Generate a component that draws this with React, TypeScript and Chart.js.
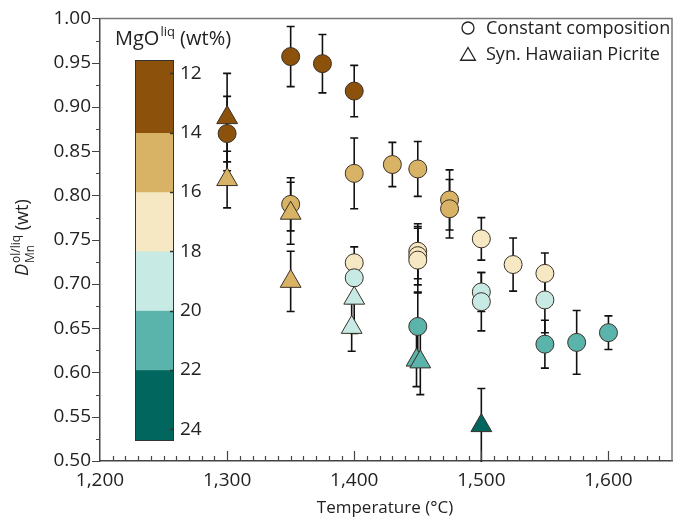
import React, { useEffect, useRef } from 'react';
import { Chart, registerables } from 'chart.js';

Chart.register(...registerables);

// MgO (wt%) bins of the colour bar, BrBG palette
const binColors = ['#8c510a', '#d8b365', '#f6e8c3', '#c7eae5', '#5ab4ac', '#01665e'];
const cbEdges = [11.55, 14, 16, 18, 20, 22, 24.4];
const cbTicks = [12, 14, 16, 18, 20, 22, 24];

const xTicks = [1200, 1300, 1400, 1500, 1600];
const yTicks = [0.5, 0.55, 0.6, 0.65, 0.7, 0.75, 0.8, 0.85, 0.9, 0.95, 1.0];

// Constant composition (circles)
const ccTemp = [1300, 1350, 1375, 1400, 1350, 1400, 1430, 1450, 1475, 1475, 1400, 1450, 1450, 1450, 1500, 1525, 1550, 1400, 1500, 1500, 1550, 1450, 1550, 1575, 1600];
const ccD = [0.870, 0.957, 0.949, 0.918, 0.790, 0.825, 0.835, 0.830, 0.795, 0.785, 0.724, 0.737, 0.732, 0.727, 0.751, 0.722, 0.712, 0.707, 0.691, 0.680, 0.682, 0.652, 0.632, 0.634, 0.645];
const ccErr = [0.042, 0.034, 0.033, 0.029, 0.030, 0.040, 0.025, 0.031, 0.034, 0.033, 0.018, 0.031, 0.033, 0.036, 0.024, 0.030, 0.023, 0.020, 0.022, 0.033, 0.037, 0.038, 0.027, 0.036, 0.019];
const ccBin = [0, 0, 0, 0, 1, 1, 1, 1, 1, 1, 2, 2, 2, 2, 2, 2, 2, 3, 3, 3, 3, 4, 4, 4, 4];

// Syn. Hawaiian Picrite (triangles)
const picTemp = [1300, 1300, 1350, 1350, 1400, 1398, 1449, 1452, 1500];
const picD = [0.888, 0.818, 0.780, 0.703, 0.684, 0.651, 0.614, 0.612, 0.540];
const picErr = [0.050, 0.032, 0.035, 0.034, 0.040, 0.027, 0.030, 0.037, 0.042];
const picBin = [0, 1, 1, 1, 3, 3, 4, 4, 5];

const FONT = '"Open Sans", sans-serif';
const TEXT = '#222';

function drawYTitle(ctx: CanvasRenderingContext2D) {
  ctx.save();
  ctx.translate(28, 276);
  ctx.rotate(-Math.PI / 2);
  ctx.fillStyle = TEXT;
  ctx.textBaseline = 'alphabetic';
  ctx.textAlign = 'left';
  ctx.font = `italic 18px ${FONT}`;
  ctx.fillText('D', 0, 0);
  let x = ctx.measureText('D').width + 1;
  ctx.font = `12px ${FONT}`;
  ctx.fillText('ol/liq', x, -8);
  const w1 = ctx.measureText('ol/liq').width;
  ctx.fillText('Mn', x, 6);
  const w2 = ctx.measureText('Mn').width;
  x += Math.max(w1, w2);
  ctx.font = `18px ${FONT}`;
  ctx.fillText(' (wt)', x, 0);
  ctx.restore();
}

function triPath(ctx: CanvasRenderingContext2D, cx: number, cy: number, r: number) {
  ctx.beginPath();
  for (let k = 0; k < 3; k++) {
    const a = (k * 2 * Math.PI) / 3;
    const px = cx + Math.sin(a) * r;
    const py = cy - Math.cos(a) * r;
    if (k === 0) ctx.moveTo(px, py);
    else ctx.lineTo(px, py);
  }
  ctx.closePath();
}

const mainDecor = {
  id: 'mainDecor',
  beforeDatasetsDraw(chart: any) {
    const { ctx, chartArea: a, scales } = chart;
    const { x, y } = scales;
    ctx.save();
    ctx.beginPath();
    ctx.rect(a.left, a.top, a.right - a.left, a.bottom - a.top + 1);
    ctx.clip();
    ctx.strokeStyle = '#111';
    ctx.lineWidth = 1.6;
    const bars = (ts: number[], ds: number[], es: number[]) =>
      ts.forEach((t, i) => {
        const px = x.getPixelForValue(t);
        const top = y.getPixelForValue(ds[i] + es[i]);
        const bot = y.getPixelForValue(ds[i] - es[i]);
        ctx.beginPath();
        ctx.moveTo(px, top);
        ctx.lineTo(px, bot);
        ctx.moveTo(px - 4, top);
        ctx.lineTo(px + 4, top);
        ctx.moveTo(px - 4, bot);
        ctx.lineTo(px + 4, bot);
        ctx.stroke();
      });
    bars(ccTemp, ccD, ccErr);
    bars(picTemp, picD, picErr);
    ctx.restore();
  },
  afterDraw(chart: any) {
    const { ctx, chartArea: a, scales } = chart;
    const { x, y } = scales;
    ctx.save();

    // top and right frame
    ctx.strokeStyle = '#777';
    ctx.lineWidth = 1.5;
    ctx.beginPath();
    ctx.moveTo(a.left, a.top);
    ctx.lineTo(a.right, a.top);
    ctx.lineTo(a.right, a.bottom);
    ctx.stroke();

    // x ticks, pointing in
    ctx.strokeStyle = '#444';
    ctx.lineWidth = 1.2;
    ctx.beginPath();
    for (let v = x.min + 10; v < x.max; v += 10) {
      const px = Math.round(x.getPixelForValue(v)) + 0.5;
      const len = v % 100 === 0 ? 10 : 5;
      ctx.moveTo(px, a.bottom);
      ctx.lineTo(px, a.bottom - len);
    }
    // y ticks, pointing out
    for (let v = y.min; v <= y.max + 1e-9; v += 0.025) {
      const py = Math.round(y.getPixelForValue(v)) + 0.5;
      const major = Math.round(v * 1000) % 50 === 0;
      ctx.moveTo(a.left, py);
      ctx.lineTo(a.left - (major ? 8 : 4), py);
    }
    ctx.stroke();

    // axis titles
    ctx.fillStyle = TEXT;
    ctx.font = `17px ${FONT}`;
    ctx.textAlign = 'center';
    ctx.textBaseline = 'middle';
    ctx.fillText('Temperature (°C)', 385, 508);
    drawYTitle(ctx);

    // legend
    ctx.strokeStyle = '#222';
    ctx.fillStyle = '#fff';
    ctx.lineWidth = 1.3;
    ctx.beginPath();
    ctx.arc(468, 28, 6, 0, Math.PI * 2);
    ctx.fill();
    ctx.stroke();
    triPath(ctx, 468, 56, 8.5);
    ctx.fill();
    ctx.stroke();
    ctx.fillStyle = TEXT;
    ctx.font = `18px ${FONT}`;
    ctx.textAlign = 'left';
    ctx.fillText('Constant composition', 486, 29);
    ctx.fillText('Syn. Hawaiian Picrite', 486, 55);

    ctx.restore();
  },
};

const cbDecor = {
  id: 'cbDecor',
  afterDraw(chart: any) {
    const { ctx, chartArea: a, scales } = chart;
    const { y } = scales;
    ctx.save();
    ctx.strokeStyle = '#333';
    ctx.lineWidth = 1;
    ctx.strokeRect(a.left + 0.5, a.top + 0.5, a.right - a.left - 1, a.bottom - a.top - 1);
    ctx.lineWidth = 1.5;
    ctx.beginPath();
    cbTicks.forEach((v) => {
      const py = Math.round(y.getPixelForValue(v)) + 0.5;
      ctx.moveTo(a.right, py);
      ctx.lineTo(a.right - 4, py);
    });
    ctx.stroke();

    // title MgO^liq (wt%)
    ctx.fillStyle = TEXT;
    ctx.textBaseline = 'alphabetic';
    ctx.textAlign = 'left';
    ctx.font = `20px ${FONT}`;
    ctx.fillText('MgO', 5, 25);
    let x = 5 + ctx.measureText('MgO').width + 1;
    ctx.font = `13px ${FONT}`;
    ctx.fillText('liq', x, 16);
    x += ctx.measureText('liq').width;
    ctx.font = `20px ${FONT}`;
    ctx.fillText(' (wt%)', x, 25);
    ctx.restore();
  },
};

export default function App() {
  const mainRef = useRef<HTMLCanvasElement>(null);
  const cbRef = useRef<HTMLCanvasElement>(null);

  useEffect(() => {
    document.body.style.margin = '0';
    if (!mainRef.current || !cbRef.current) return;

    const tickFont = { family: FONT, size: 19, lineHeight: 1 };

    const main = new Chart(mainRef.current, {
      type: 'scatter',
      data: {
        datasets: [
          {
            label: 'Syn. Hawaiian Picrite',
            data: picTemp.map((t, i) => ({ x: t, y: picD[i] })),
            pointStyle: 'triangle',
            pointRadius: 12,
            backgroundColor: picBin.map((b) => binColors[b]),
            borderColor: '#3a3026',
            borderWidth: 1,
            order: 1,
          },
          {
            label: 'Constant composition',
            data: ccTemp.map((t, i) => ({ x: t, y: ccD[i] })),
            pointStyle: 'circle',
            pointRadius: 9,
            backgroundColor: ccBin.map((b) => binColors[b]),
            borderColor: '#3a3026',
            borderWidth: 1,
            order: 2,
          },
        ],
      },
      options: {
        animation: false,
        responsive: false,
        events: [],
        layout: { padding: { top: 10, right: 1, left: 0, bottom: 0 } },
        plugins: { legend: { display: false }, tooltip: { enabled: false } },
        scales: {
          x: {
            type: 'linear',
            min: 1200,
            max: 1650,
            afterBuildTicks: (s: any) => {
              s.ticks = xTicks.map((v) => ({ value: v }));
            },
            afterFit: (s: any) => {
              s.height = 62;
            },
            ticks: {
              callback: (v: any) => Number(v).toLocaleString('en-US'),
              font: tickFont,
              color: TEXT,
              padding: 10,
              maxRotation: 0,
              autoSkip: false,
            },
            grid: { drawOnChartArea: false, drawTicks: false },
            border: { color: '#444', width: 1.5 },
          },
          y: {
            type: 'linear',
            min: 0.5,
            max: 1.0,
            afterBuildTicks: (s: any) => {
              s.ticks = yTicks.map((v) => ({ value: v }));
            },
            afterFit: (s: any) => {
              s.width = 100;
            },
            ticks: {
              callback: (v: any) => Number(v).toFixed(2),
              font: tickFont,
              color: TEXT,
              padding: 9,
            },
            grid: { drawOnChartArea: false, drawTicks: false },
            border: { color: '#444', width: 1.5 },
          },
        },
      },
      plugins: [mainDecor],
    });

    const cb = new Chart(cbRef.current, {
      type: 'bar',
      data: {
        labels: ['MgO'],
        datasets: binColors.map((c, i) => ({
          label: `${cbEdges[i]}-${cbEdges[i + 1]}`,
          data: [[cbEdges[i], cbEdges[i + 1]]] as any,
          backgroundColor: c,
          borderWidth: 0,
          grouped: false,
          barPercentage: 1,
          categoryPercentage: 1,
        })),
      },
      options: {
        animation: false,
        responsive: false,
        events: [],
        layout: { padding: { left: 25, top: 40, bottom: 20, right: 0 } },
        plugins: { legend: { display: false }, tooltip: { enabled: false } },
        scales: {
          x: { display: false },
          y: {
            position: 'right',
            reverse: true,
            min: cbEdges[0],
            max: cbEdges[cbEdges.length - 1],
            afterBuildTicks: (s: any) => {
              s.ticks = cbTicks.map((v) => ({ value: v }));
            },
            afterFit: (s: any) => {
              s.width = 60;
            },
            ticks: { font: tickFont, color: TEXT, padding: 6 },
            grid: { drawOnChartArea: false, drawTicks: false },
            border: { display: false },
          },
        },
      },
      plugins: [cbDecor],
    });

    return () => {
      main.destroy();
      cb.destroy();
    };
  }, []);

  return (
    <div style={{ position: 'relative', width: 685, height: 523, background: '#fff' }}>
      <canvas ref={mainRef} width={685} height={523} style={{ position: 'absolute', left: 0, top: 0 }} />
      <canvas ref={cbRef} width={124} height={441} style={{ position: 'absolute', left: 110, top: 20 }} />
    </div>
  );
}
